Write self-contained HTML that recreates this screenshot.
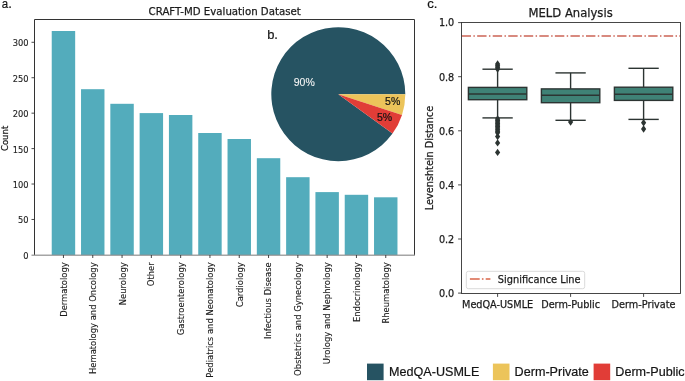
<!DOCTYPE html>
<html><head><meta charset="utf-8"><title>CRAFT-MD figure</title>
<style>html,body{margin:0;padding:0;background:#fff;width:685px;height:381px;overflow:hidden}svg{display:block}</style>
</head><body>
<svg width="685" height="381" viewBox="0 0 685 381">
<style>.d{font-family:"DejaVu Sans","Liberation Sans",sans-serif;fill:#1c1c1c;stroke:#1c1c1c;stroke-width:0.25px}.s{stroke-width:0.12px}.l{font-family:"Liberation Sans",Arial,sans-serif}.k{fill:#141414;stroke:#141414;stroke-width:0.2px}.w{fill:#f4f4f4;stroke:#f4f4f4;stroke-width:0.1px}</style>
<rect width="685" height="381" fill="#fff"/>
<rect x="51.73" y="31.00" width="23.44" height="224.00" fill="#53acbc"/>
<rect x="81.03" y="89.20" width="23.44" height="165.80" fill="#53acbc"/>
<rect x="110.33" y="103.80" width="23.44" height="151.20" fill="#53acbc"/>
<rect x="139.63" y="113.10" width="23.44" height="141.90" fill="#53acbc"/>
<rect x="168.93" y="115.00" width="23.44" height="140.00" fill="#53acbc"/>
<rect x="198.23" y="133.00" width="23.44" height="122.00" fill="#53acbc"/>
<rect x="227.53" y="139.00" width="23.44" height="116.00" fill="#53acbc"/>
<rect x="256.83" y="158.20" width="23.44" height="96.80" fill="#53acbc"/>
<rect x="286.13" y="177.20" width="23.44" height="77.80" fill="#53acbc"/>
<rect x="315.43" y="192.10" width="23.44" height="62.90" fill="#53acbc"/>
<rect x="344.73" y="194.80" width="23.44" height="60.20" fill="#53acbc"/>
<rect x="374.03" y="197.30" width="23.44" height="57.70" fill="#53acbc"/>
<path d="M34.5 255.0 V19.5 H414.5 V255.0" fill="none" stroke="#333" stroke-width="1"/>
<line x1="31.5" y1="255.2" x2="415.0" y2="255.2" stroke="#8f8f8f" stroke-opacity="0.8" stroke-width="1.5"/>
<text x="28.5" y="258.83" class="d s" font-size="8.3" text-anchor="end">0</text>
<line x1="31.5" y1="219.47" x2="34.5" y2="219.47" stroke="#333" stroke-width="0.9"/>
<text x="28.5" y="223.39" class="d s" font-size="8.3" text-anchor="end">50</text>
<line x1="31.5" y1="184.03" x2="34.5" y2="184.03" stroke="#333" stroke-width="0.9"/>
<text x="28.5" y="187.96" class="d s" font-size="8.3" text-anchor="end">100</text>
<line x1="31.5" y1="148.60" x2="34.5" y2="148.60" stroke="#333" stroke-width="0.9"/>
<text x="28.5" y="152.52" class="d s" font-size="8.3" text-anchor="end">150</text>
<line x1="31.5" y1="113.16" x2="34.5" y2="113.16" stroke="#333" stroke-width="0.9"/>
<text x="28.5" y="117.09" class="d s" font-size="8.3" text-anchor="end">200</text>
<line x1="31.5" y1="77.72" x2="34.5" y2="77.72" stroke="#333" stroke-width="0.9"/>
<text x="28.5" y="81.65" class="d s" font-size="8.3" text-anchor="end">250</text>
<line x1="31.5" y1="42.29" x2="34.5" y2="42.29" stroke="#333" stroke-width="0.9"/>
<text x="28.5" y="46.22" class="d s" font-size="8.3" text-anchor="end">300</text>
<line x1="63.45" y1="255.0" x2="63.45" y2="258.0" stroke="#333" stroke-width="0.9"/>
<text transform="translate(67.01 262.3) rotate(-90)" class="d s" font-size="8.42" text-anchor="end">Dermatology</text>
<line x1="92.75" y1="255.0" x2="92.75" y2="258.0" stroke="#333" stroke-width="0.9"/>
<text transform="translate(95.86 262.3) rotate(-90)" class="d s" font-size="8.42" text-anchor="end">Hematology and Oncology</text>
<line x1="122.05" y1="255.0" x2="122.05" y2="258.0" stroke="#333" stroke-width="0.9"/>
<text transform="translate(125.51 262.3) rotate(-90)" class="d s" font-size="8.42" text-anchor="end">Neurology</text>
<line x1="151.35" y1="255.0" x2="151.35" y2="258.0" stroke="#333" stroke-width="0.9"/>
<text transform="translate(154.11 262.3) rotate(-90)" class="d s" font-size="8.42" text-anchor="end">Other</text>
<line x1="180.65" y1="255.0" x2="180.65" y2="258.0" stroke="#333" stroke-width="0.9"/>
<text transform="translate(183.91 262.3) rotate(-90)" class="d s" font-size="8.42" text-anchor="end">Gastroenterology</text>
<line x1="209.95" y1="255.0" x2="209.95" y2="258.0" stroke="#333" stroke-width="0.9"/>
<text transform="translate(213.01 262.3) rotate(-90)" class="d s" font-size="8.42" text-anchor="end">Pediatrics and Neonatology</text>
<line x1="239.25" y1="255.0" x2="239.25" y2="258.0" stroke="#333" stroke-width="0.9"/>
<text transform="translate(242.81 262.3) rotate(-90)" class="d s" font-size="8.42" text-anchor="end">Cardiology</text>
<line x1="268.55" y1="255.0" x2="268.55" y2="258.0" stroke="#333" stroke-width="0.9"/>
<text transform="translate(271.31 262.3) rotate(-90)" class="d s" font-size="8.42" text-anchor="end">Infectious Disease</text>
<line x1="297.85" y1="255.0" x2="297.85" y2="258.0" stroke="#333" stroke-width="0.9"/>
<text transform="translate(300.51 262.3) rotate(-90)" class="d s" font-size="8.42" text-anchor="end">Obstetrics and Gynecology</text>
<line x1="327.15" y1="255.0" x2="327.15" y2="258.0" stroke="#333" stroke-width="0.9"/>
<text transform="translate(330.41 262.3) rotate(-90)" class="d s" font-size="8.42" text-anchor="end">Urology and Nephrology</text>
<line x1="356.45" y1="255.0" x2="356.45" y2="258.0" stroke="#333" stroke-width="0.9"/>
<text transform="translate(359.71 262.3) rotate(-90)" class="d s" font-size="8.42" text-anchor="end">Endocrinology</text>
<line x1="385.75" y1="255.0" x2="385.75" y2="258.0" stroke="#333" stroke-width="0.9"/>
<text transform="translate(388.71 262.3) rotate(-90)" class="d s" font-size="8.42" text-anchor="end">Rheumatology</text>
<text transform="translate(7.9 138.4) rotate(-90)" class="d" font-size="8.5" text-anchor="middle">Count</text>
<text x="224.7" y="14.8" class="d" font-size="10.2" text-anchor="middle">CRAFT-MD Evaluation Dataset</text>
<text transform="translate(1.75 8) scale(0.87 1)" class="l k" font-size="13.2">a</text><text x="8.3" y="8" class="l k" font-size="13.2">.</text>
<text x="267.3" y="39.1" class="l k" font-size="12.9" letter-spacing="-0.2">b.</text>
<text x="427.2" y="8" class="l k" font-size="13.2">c.</text>
<path d="M338.3 94.2 L405.30 94.20 A67 67 0 1 0 392.50 133.58 Z" fill="#265362"/>
<path d="M338.3 94.2 L405.30 94.20 A67 67 0 0 1 402.02 114.90 Z" fill="#ecc45a"/>
<path d="M338.3 94.2 L402.02 114.90 A67 67 0 0 1 392.50 133.58 Z" fill="#e13d37"/>
<text x="304.3" y="85.8" class="l w" font-size="10.5" text-anchor="middle">90%</text>
<text x="392.7" y="104.9" class="l k" font-size="10.5" text-anchor="middle">5%</text>
<text x="384.6" y="120.9" class="l k" font-size="10.5" text-anchor="middle">5%</text>
<line x1="461.6" y1="35.9" x2="680.5" y2="35.9" stroke="#cc6455" stroke-width="1.5" stroke-dasharray="9.4 2.4 1.45 2.3"/>
<line x1="497.6" y1="99.7" x2="497.6" y2="117.9" stroke="#2c3432" stroke-width="1.4"/>
<line x1="497.6" y1="87.4" x2="497.6" y2="69.2" stroke="#2c3432" stroke-width="1.4"/>
<line x1="482.45000000000005" y1="117.9" x2="512.75" y2="117.9" stroke="#2c3432" stroke-width="1.4"/>
<line x1="482.45000000000005" y1="69.2" x2="512.75" y2="69.2" stroke="#2c3432" stroke-width="1.4"/>
<rect x="468.40000000000003" y="87.4" width="58.4" height="12.30" fill="#3f8276" stroke="#2c3432" stroke-width="1.4"/>
<line x1="468.40000000000003" y1="94.0" x2="526.8000000000001" y2="94.0" stroke="#2c3432" stroke-width="1.4"/>
<path d="M497.6 60.3 L500.20000000000005 64 L497.6 67.7 L495.0 64 Z" fill="#2c3432"/>
<path d="M497.6 62.0 L500.20000000000005 65.7 L497.6 69.4 L495.0 65.7 Z" fill="#2c3432"/>
<path d="M497.6 63.599999999999994 L500.20000000000005 67.3 L497.6 71.0 L495.0 67.3 Z" fill="#2c3432"/>
<path d="M497.6 65.3 L500.20000000000005 69 L497.6 72.7 L495.0 69 Z" fill="#2c3432"/>
<path d="M497.6 115.3 L500.20000000000005 119 L497.6 122.7 L495.0 119 Z" fill="#2c3432"/>
<path d="M497.6 116.8 L500.20000000000005 120.5 L497.6 124.2 L495.0 120.5 Z" fill="#2c3432"/>
<path d="M497.6 118.3 L500.20000000000005 122 L497.6 125.7 L495.0 122 Z" fill="#2c3432"/>
<path d="M497.6 119.8 L500.20000000000005 123.5 L497.6 127.2 L495.0 123.5 Z" fill="#2c3432"/>
<path d="M497.6 121.3 L500.20000000000005 125 L497.6 128.7 L495.0 125 Z" fill="#2c3432"/>
<path d="M497.6 122.8 L500.20000000000005 126.5 L497.6 130.2 L495.0 126.5 Z" fill="#2c3432"/>
<path d="M497.6 124.3 L500.20000000000005 128 L497.6 131.7 L495.0 128 Z" fill="#2c3432"/>
<path d="M497.6 125.99999999999999 L500.20000000000005 129.7 L497.6 133.39999999999998 L495.0 129.7 Z" fill="#2c3432"/>
<path d="M497.6 127.49999999999999 L500.20000000000005 131.2 L497.6 134.89999999999998 L495.0 131.2 Z" fill="#2c3432"/>
<path d="M497.6 129.10000000000002 L500.20000000000005 132.8 L497.6 136.5 L495.0 132.8 Z" fill="#2c3432"/>
<path d="M497.6 132.9 L500.20000000000005 136.6 L497.6 140.29999999999998 L495.0 136.6 Z" fill="#2c3432"/>
<path d="M497.6 139.20000000000002 L500.20000000000005 142.9 L497.6 146.6 L495.0 142.9 Z" fill="#2c3432"/>
<path d="M497.6 148.70000000000002 L500.20000000000005 152.4 L497.6 156.1 L495.0 152.4 Z" fill="#2c3432"/>
<line x1="570.6" y1="102.7" x2="570.6" y2="120.3" stroke="#2c3432" stroke-width="1.4"/>
<line x1="570.6" y1="88.9" x2="570.6" y2="72.9" stroke="#2c3432" stroke-width="1.4"/>
<line x1="555.45" y1="120.3" x2="585.75" y2="120.3" stroke="#2c3432" stroke-width="1.4"/>
<line x1="555.45" y1="72.9" x2="585.75" y2="72.9" stroke="#2c3432" stroke-width="1.4"/>
<rect x="541.4" y="88.9" width="58.4" height="13.80" fill="#3f8276" stroke="#2c3432" stroke-width="1.4"/>
<line x1="541.4" y1="95.3" x2="599.8000000000001" y2="95.3" stroke="#2c3432" stroke-width="1.4"/>
<path d="M570.6 118.39999999999999 L573.2 122.1 L570.6 125.8 L568.0 122.1 Z" fill="#2c3432"/>
<line x1="643.6" y1="100.4" x2="643.6" y2="119.4" stroke="#2c3432" stroke-width="1.4"/>
<line x1="643.6" y1="87.2" x2="643.6" y2="68.3" stroke="#2c3432" stroke-width="1.4"/>
<line x1="628.45" y1="119.4" x2="658.75" y2="119.4" stroke="#2c3432" stroke-width="1.4"/>
<line x1="628.45" y1="68.3" x2="658.75" y2="68.3" stroke="#2c3432" stroke-width="1.4"/>
<rect x="614.4" y="87.2" width="58.4" height="13.20" fill="#3f8276" stroke="#2c3432" stroke-width="1.4"/>
<line x1="614.4" y1="94.2" x2="672.8000000000001" y2="94.2" stroke="#2c3432" stroke-width="1.4"/>
<path d="M643.6 119.1 L646.2 122.8 L643.6 126.5 L641.0 122.8 Z" fill="#2c3432"/>
<path d="M643.6 125.3 L646.2 129.0 L643.6 132.7 L641.0 129.0 Z" fill="#2c3432"/>
<rect x="461.5" y="22.5" width="219.0" height="271.0" fill="none" stroke="#333" stroke-width="0.9"/>
<line x1="458.1" y1="293.10" x2="461.5" y2="293.10" stroke="#333" stroke-width="0.9"/>
<text x="454.3" y="296.94" class="d" font-size="9.7" text-anchor="end">0.0</text>
<line x1="458.1" y1="239.00" x2="461.5" y2="239.00" stroke="#333" stroke-width="0.9"/>
<text x="454.3" y="242.84" class="d" font-size="9.7" text-anchor="end">0.2</text>
<line x1="458.1" y1="184.90" x2="461.5" y2="184.90" stroke="#333" stroke-width="0.9"/>
<text x="454.3" y="188.74" class="d" font-size="9.7" text-anchor="end">0.4</text>
<line x1="458.1" y1="130.80" x2="461.5" y2="130.80" stroke="#333" stroke-width="0.9"/>
<text x="454.3" y="134.64" class="d" font-size="9.7" text-anchor="end">0.6</text>
<line x1="458.1" y1="76.70" x2="461.5" y2="76.70" stroke="#333" stroke-width="0.9"/>
<text x="454.3" y="80.54" class="d" font-size="9.7" text-anchor="end">0.8</text>
<line x1="458.1" y1="22.60" x2="461.5" y2="22.60" stroke="#333" stroke-width="0.9"/>
<text x="454.3" y="26.44" class="d" font-size="9.7" text-anchor="end">1.0</text>
<line x1="497.6" y1="293.5" x2="497.6" y2="296.9" stroke="#333" stroke-width="0.9"/>
<text x="497.6" y="307.9" class="d" font-size="9.7" text-anchor="middle">MedQA-USMLE</text>
<line x1="570.6" y1="293.5" x2="570.6" y2="296.9" stroke="#333" stroke-width="0.9"/>
<text x="570.6" y="307.9" class="d" font-size="9.7" text-anchor="middle">Derm-Public</text>
<line x1="643.6" y1="293.5" x2="643.6" y2="296.9" stroke="#333" stroke-width="0.9"/>
<text x="643.6" y="307.9" class="d" font-size="9.7" text-anchor="middle">Derm-Private</text>
<text transform="translate(432.8 158.0) rotate(-90)" class="d" font-size="9.7" text-anchor="middle">Levenshtein Distance</text>
<text x="570.6" y="16.5" class="d" font-size="11.6" text-anchor="middle">MELD Analysis</text>
<rect x="466.3" y="271.3" width="118.4" height="17.4" rx="2" fill="#fff" fill-opacity="0.8" stroke="#d6d6d6" stroke-width="0.9"/>
<line x1="469.9" y1="279" x2="490.4" y2="279" stroke="#d9654a" stroke-width="1.6" stroke-dasharray="9.8 2.2 1.6 2.2"/>
<text x="497.8" y="283" class="d" font-size="9.8">Significance Line</text>
<rect x="367" y="363.6" width="16.6" height="16.6" fill="#265362"/>
<text x="389.0" y="376" class="l k" font-size="12.6">MedQA-USMLE</text>
<rect x="492.9" y="363.6" width="16.6" height="16.6" fill="#ecc45a"/>
<text x="514.6" y="376" class="l k" font-size="12.6">Derm-Private</text>
<rect x="593.6" y="363.6" width="16.6" height="16.6" fill="#e13d37"/>
<text x="615.3" y="376" class="l k" font-size="12.6">Derm-Public</text>
</svg>
</body></html>
